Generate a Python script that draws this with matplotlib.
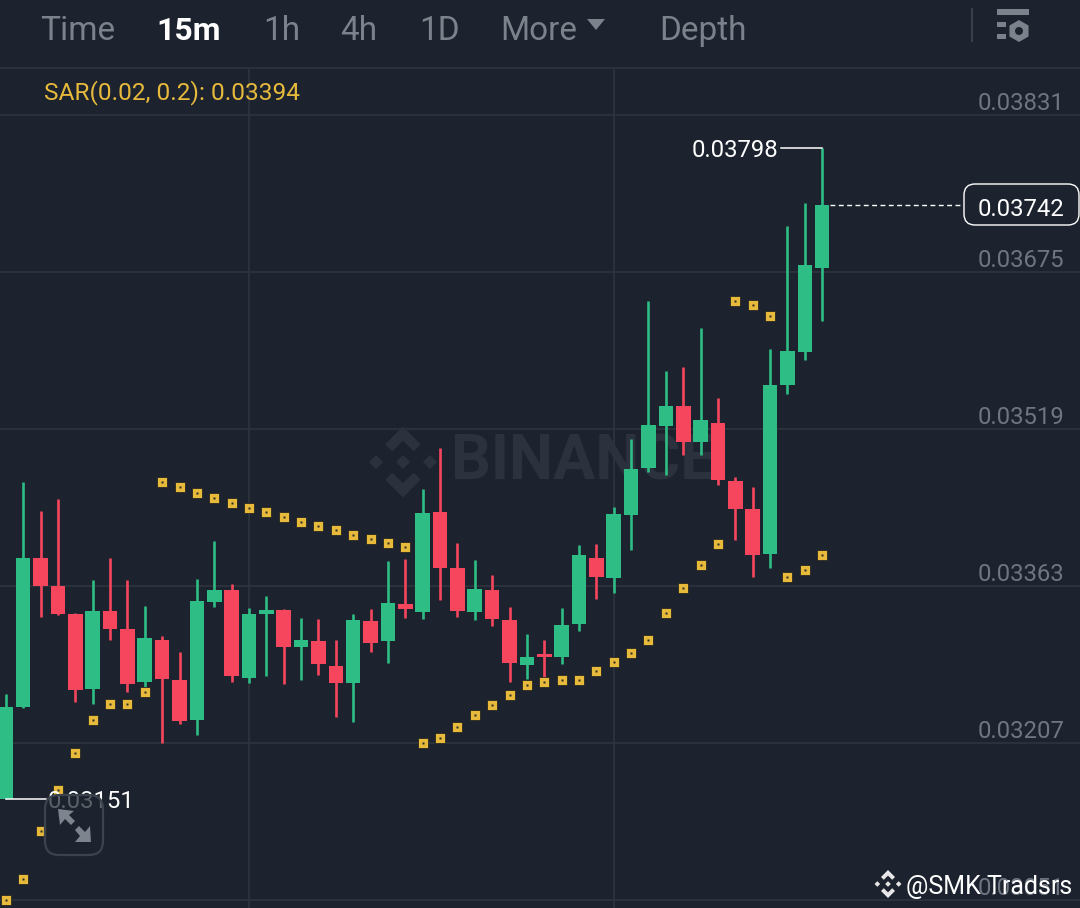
import matplotlib
matplotlib.use("Agg")
import matplotlib.pyplot as plt
from matplotlib.patches import Polygon, Rectangle, FancyBboxPatch, RegularPolygon, Circle
from matplotlib.transforms import IdentityTransform, ScaledTranslation, blended_transform_factory

plt.rcParams['font.family'] = ['Roboto', 'DejaVu Sans']

# ---- data -----------------------------------------------------------------
opens = [.03151,.03243,.03391,.03363,.03335,.03261,.03338,.03320,.03268,.03309,.03270,.03230,
         .03347,.03359,.03272,.03335,.03339,.03302,.03308,.03284,.03267,.03328,.03308,.03345,
         .03337,.03437,.03381,.03337,.03359,.03329,.03285,.03295,.03293,.03325,.03391,.03371,
         .03434,.03480,.03522,.03542,.03506,.03525,.03467,.03440,.03395,.03563,.03596,.03679]
highs = [.03256,.03466,.03438,.03450,.03336,.03369,.03391,.03369,.03343,.03313,.03297,.03370,
         .03408,.03365,.03341,.03353,.03340,.03331,.03330,.03309,.03335,.03340,.03388,.03390,
         .03460,.03500,.03406,.03389,.03374,.03342,.03315,.03309,.03341,.03404,.03405,.03442,
         .03509,.03646,.03577,.03581,.03620,.03550,.03471,.03461,.03599,.03721,.03744,.03798]
lows = [.03151,.03242,.03332,.03334,.03248,.03246,.03309,.03258,.03263,.03207,.03226,.03215,
        .03342,.03268,.03267,.03274,.03266,.03270,.03275,.03233,.03228,.03297,.03287,.03331,
        .03330,.03349,.03332,.03329,.03323,.03268,.03271,.03271,.03286,.03318,.03350,.03356,
        .03399,.03476,.03473,.03493,.03493,.03463,.03409,.03372,.03381,.03554,.03588,.03627]
closes = [.03243,.03391,.03363,.03335,.03260,.03338,.03320,.03266,.03311,.03271,.03229,.03348,
          .03359,.03274,.03335,.03339,.03302,.03309,.03286,.03267,.03329,.03306,.03346,.03340,
          .03436,.03381,.03338,.03360,.03330,.03287,.03293,.03293,.03324,.03394,.03372,.03435,
          .03479,.03523,.03542,.03506,.03528,.03468,.03440,.03394,.03563,.03597,.03682,.03742]
sar = [.03051,.03072,.03120,.03160,.03197,.03230,.03246,.03246,.03258,.03466,.03461,.03456,
       .03451,.03446,.03441,.03437,.03432,.03427,.03423,.03419,.03414,.03410,.03406,.03402,
       .03207,.03212,.03223,.03235,.03245,.03255,.03265,.03268,.03270,.03270,.03279,.03288,
       .03296,.03309,.03336,.03361,.03384,.03405,.03646,.03642,.03631,.03372,.03379,.03394]
price_ticks = [.03831, .03675, .03519, .03363, .03207, .03051]
time_ticks = [14, 35]
tabs = ["Time", "15m", "1h", "4h", "1D", "More", "Depth"]
tab_x = [40, 156, 263, 340, 419, 500, 659]

# ---- style ----------------------------------------------------------------
W, H = 1080, 908
BG = '#1c232e'
GRID = '#2e343e'
GREEN = '#2ebd85'
RED = '#f6465d'
YELLOW = '#e8ba3c'
GREY = '#6f7681'
TABGREY = '#7c828c'
WATER = '#2c323d'

fig = plt.figure(figsize=(W / 100, H / 100), dpi=100, facecolor=BG)
ax = fig.add_axes([0, 0, 1, (H - 68) / H], facecolor=BG)
ax.set_xlim(-5.8 / 17.37, (W - 5.8) / 17.37)
ax.set_ylim(0.03043, 0.03878)


def pix(x, y):
    return (x, H - y)


def poly(points, color, zorder=1, alpha=None):
    p = Polygon([pix(*q) for q in points], closed=True, facecolor=color, edgecolor='none',
                transform=IdentityTransform(), zorder=zorder, alpha=alpha, clip_on=False)
    ax.add_patch(p)


def binance_logo(cx, cy, r, color, zorder=1):
    def diamond(dx, dy, s):
        poly([(cx + dx * r, cy + (dy - s) * r), (cx + (dx + s) * r, cy + dy * r),
              (cx + dx * r, cy + (dy + s) * r), (cx + (dx - s) * r, cy + dy * r)], color, zorder)
    diamond(0, 0, .2)
    diamond(-.76, 0, .2)
    diamond(.76, 0, .2)
    for sg in (-1, 1):
        shape = [(0, 1), (.5, .5), (.3, .3), (0, .6), (-.3, .3), (-.5, .5)]
        poly([(cx + a * r, cy + sg * b * r) for a, b in shape], color, zorder)


# grid and axes
for s in ('left', 'right', 'bottom'):
    ax.spines[s].set_visible(False)
ax.spines['top'].set_color(GRID)
ax.spines['top'].set_linewidth(1.2)
ax.set_xticks(time_ticks)
ax.set_xticklabels([])
ax.yaxis.tick_right()
ax.set_yticks(price_ticks)
ax.set_yticklabels([f"{p:.5f}" for p in price_ticks])
ax.tick_params(axis='both', length=0)
ax.tick_params(axis='y', labelsize=17.2, labelcolor=GREY, pad=-11)
ax.grid(True, color=GRID, linewidth=1.2, zorder=0)
ax.set_axisbelow(True)
shift = ScaledTranslation(0, 0.115, fig.dpi_scale_trans)
for lab in ax.get_yticklabels():
    lab.set_ha('right')
    lab.set_va('center')
    lab.set_transform(lab.get_transform() + shift)

# exchange watermark
binance_logo(403, 462, 35.5, WATER, 1)
fig_t = fig.transFigure
ax.text(451 / W, 1 - 480 / H, "BINANCE", transform=fig_t, color=WATER, fontsize=45,
        fontweight='bold', ha='left', va='baseline', zorder=1)

# candles
idx = list(range(len(opens)))
colors = [GREEN if c >= o else RED for o, c in zip(opens, closes)]
ax.vlines(idx, lows, highs, colors=colors, linewidth=1.9, zorder=3)
ax.bar(idx, [abs(c - o) for o, c in zip(opens, closes)], bottom=[min(o, c) for o, c in zip(opens, closes)],
       width=0.84, color=colors, linewidth=0, zorder=4)

# SAR
ax.plot(idx, sar, linestyle='none', marker='s', markersize=6.6, markerfacecolor=YELLOW,
        markeredgecolor='#15181d', markeredgewidth=0.5, zorder=5)
ax.plot(idx, sar, linestyle='none', marker='s', markersize=1.8, markerfacecolor='#2a2a26',
        markeredgecolor='none', zorder=6)
fig.text(44 / W, 1 - 93 / H, f"SAR(0.02, 0.2): {sar[-1]:.5f}", color=YELLOW, fontsize=17.6,
         ha='left', va='center')

# extreme price labels
trans = blended_transform_factory(IdentityTransform(), ax.transData)
i_hi = highs.index(max(highs))
ax.annotate(f"{highs[i_hi]:.5f}", xy=(i_hi, highs[i_hi]), xytext=(-44, -2), textcoords='offset pixels',
            color='white', fontsize=17.2, ha='right', va='center', zorder=7)
ax.plot([781, 822], [highs[i_hi], highs[i_hi]], transform=trans, color='white', lw=1.1, zorder=7)
i_lo = lows.index(min(lows))
ax.annotate(f"{lows[i_lo]:.5f}", xy=(i_lo, lows[i_lo]), xytext=(42, -2), textcoords='offset pixels',
            color='white', fontsize=17.2, ha='left', va='center', zorder=7)
ax.plot([6, 46], [lows[i_lo], lows[i_lo]], transform=trans, color='white', lw=1.1, zorder=7)

# last price line and box
last = closes[-1]
ax.plot([830, 964], [last, last], transform=trans, color='white', lw=1, ls=(0, (3.5, 2.5)), zorder=7)
box = FancyBboxPatch((964, H - 225), 115, 41, boxstyle='round,pad=0,rounding_size=11',
                     transform=IdentityTransform(), facecolor=BG, edgecolor='white', linewidth=1, zorder=8,
                     clip_on=False)
ax.add_patch(box)
ax.text(1021 / W, 1 - 210 / H, f"{last:.5f}", transform=fig_t, color='white', fontsize=17.2,
        ha='center', va='center', zorder=9)

# top tabs
for name, x in zip(tabs, tab_x):
    active = name == "15m"
    fig.text(x / W, 1 - 40 / H, name, color='white' if active else TABGREY,
             fontsize=23 if active else 24, fontweight='bold' if active else 'normal',
             ha='left', va='baseline')
poly([(587, 19), (605, 19), (596, 30)], TABGREY, 3)

# settings icon
ax.add_patch(Rectangle((971, H - 42), 2, 34, transform=IdentityTransform(), facecolor='#3a404a',
                       edgecolor='none', clip_on=False))
ICON = '#7c828c'
for x0, x1, y0, y1 in [(997, 1029, 9, 15), (997, 1006, 22, 27), (997, 1006, 34, 39)]:
    ax.add_patch(Rectangle((x0, H - y1), x1 - x0, y1 - y0, transform=IdentityTransform(), facecolor=ICON,
                           edgecolor='none', clip_on=False))
ax.add_patch(RegularPolygon((1019, H - 31), 6, radius=11, transform=IdentityTransform(), facecolor=ICON,
                            edgecolor='none', clip_on=False))
ax.add_patch(Circle((1019, H - 31), 4, transform=IdentityTransform(), facecolor=BG, edgecolor='none',
                    clip_on=False))

# expand button
ax.add_patch(FancyBboxPatch((45, H - 855), 58, 60, boxstyle='round,pad=0,rounding_size=14',
                            transform=IdentityTransform(), facecolor=BG, alpha=.72, edgecolor='none', zorder=9))
ax.add_patch(FancyBboxPatch((45, H - 855), 58, 60, boxstyle='round,pad=0,rounding_size=14',
                            transform=IdentityTransform(), facecolor='none', edgecolor='#3d434d', linewidth=1.6,
                            zorder=10))
poly([(58, 809), (74, 811), (69, 815), (75, 821), (71, 825), (65, 819), (60, 825)], '#7e848e', 11)
poly([(91, 842), (75, 842), (80, 836), (75, 830), (79, 826), (85, 832), (90, 826)], '#7e848e', 11)

# corner attribution
binance_logo(888, 884, 14, '#e8e8e8', 12)
fig.text(906 / W, 1 - 894 / H, "@SMK Tradsrs", color='white', fontsize=18, ha='left', va='baseline', zorder=12)

fig.savefig('out.png', dpi=100, facecolor=BG)
